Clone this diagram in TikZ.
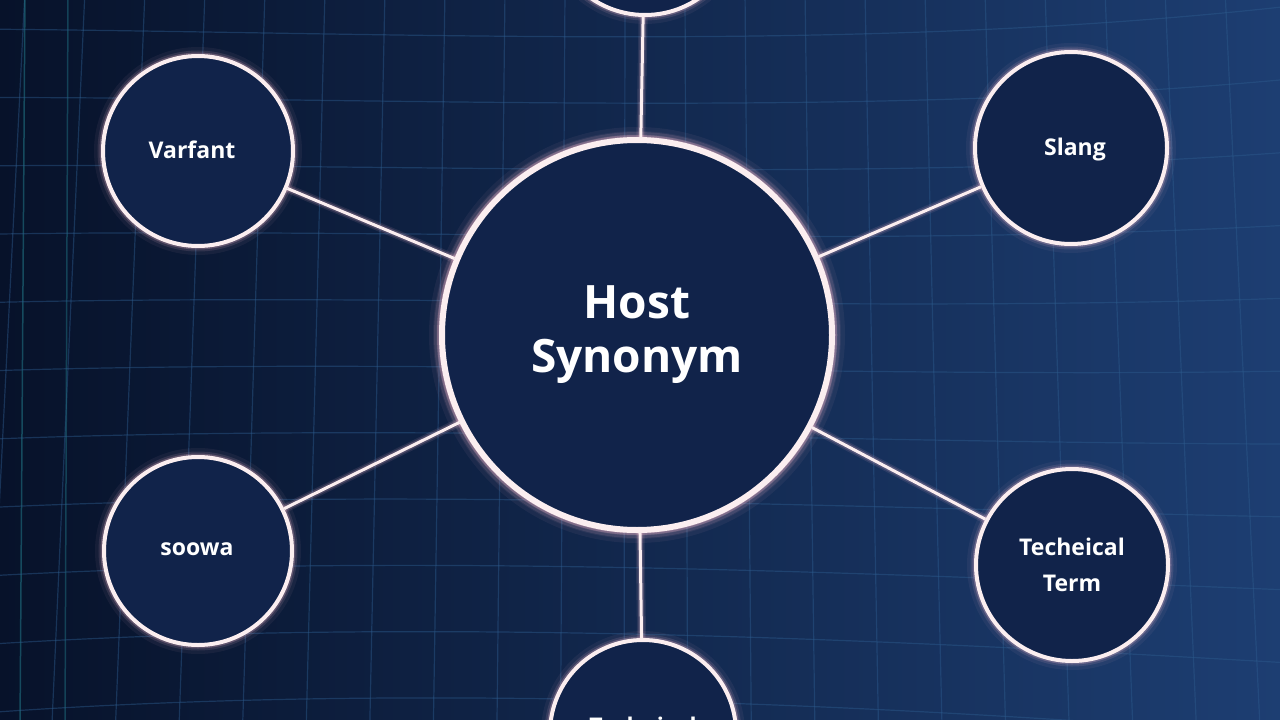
\documentclass[tikz,border=0pt]{standalone}
\usepackage{fontspec}
\setmainfont{Open Sans}
\definecolor{bgL}{HTML}{07122A}
\definecolor{bgM}{HTML}{0F2346}
\definecolor{bgR}{HTML}{1D3E72}
\definecolor{gridc}{HTML}{2D5C8E}
\definecolor{gridt}{HTML}{1F7080}
\definecolor{nodefill}{HTML}{11234A}
\definecolor{ringc}{HTML}{FBEEF0}
\definecolor{glowc}{HTML}{F2B8CC}
\tikzset{
  glowline/.style={draw=ringc, line width=3pt,
    preaction={draw=glowc, line width=9pt, opacity=0.10},
    preaction={draw=glowc, line width=6pt, opacity=0.20}},
  bubble/.style={circle, inner sep=0pt, fill=nodefill, draw=ringc, line width=4pt,
    text=white, align=center, font=\fontsize{23}{36}\selectfont\bfseries,
    preaction={draw=glowc, line width=18pt, opacity=0.06},
    preaction={draw=glowc, line width=11pt, opacity=0.12},
    preaction={draw=glowc, line width=7pt, opacity=0.25}},
  hub/.style={bubble, line width=6pt, font=\fontsize{46}{54}\selectfont\bfseries,
    preaction={draw=glowc, line width=26pt, opacity=0.06},
    preaction={draw=glowc, line width=16pt, opacity=0.12},
    preaction={draw=glowc, line width=10pt, opacity=0.25}},
  gridline/.style={draw=gridc, line width=1.2pt, opacity=0.45},
  labeltext/.style={text=white, font=\fontsize{23}{28}\selectfont\bfseries, inner sep=0pt}
}
\begin{document}
\begin{tikzpicture}[x=1pt,y=-1pt]
\useasboundingbox (0,0) rectangle (1280,720);
\clip (0,0) rectangle (1280,720);
\shade[left color=bgL, middle color=bgM, right color=bgR] (0,0) rectangle (1280,720);
% grid
\foreach \x in {25,85,...,1285} {
  \draw[gridline] (\x,-10) -- ({\x+(\x-640)*0.06},730);
}
\draw[draw=gridt, line width=1.5pt, opacity=0.6] (25,-10) -- (20,730);
\draw[draw=gridt, line width=1.5pt, opacity=0.5] (68,-10) -- (65,730);
\foreach \y in {-20,45,...,780} {
  \draw[gridline] (0,{\y+(\y-360)*0.05}) .. controls (420,{\y-12}) and (860,{\y+8}) .. (1280,{\y+(\y-360)*0.12});
}
% nodes
\node[hub, minimum size=390pt] (host) at (637,335) {Host\\Synonym};
\node[bubble, minimum size=190pt] (top) at (645,-80) {};
\node[bubble, minimum size=190pt] (variant) at (198,151) {};
\node[labeltext] (variantT) at (192,150) {Varfant};
\node[bubble, minimum size=192pt] (slang) at (1071,148) {};
\node[labeltext] (slangT) at (1075,150) {Slang};
\node[bubble, minimum size=188pt] (soowa) at (198,551) {};
\node[labeltext] (soowaT) at (197,549) {soowa};
\node[bubble, minimum size=192pt] (tech) at (1072,565) {Techeical\\Term};
\node[bubble, minimum size=186pt] (bottom) at (643,733) {};
\node[labeltext, anchor=base] (bottomT) at (643,734) {Technical};
% connectors
\draw[glowline] (host) -- (top);
\draw[glowline] (host) -- (variant);
\draw[glowline] (host) -- (slang);
\draw[glowline] (host) -- (soowa);
\draw[glowline] (host) -- (tech);
\draw[glowline] (host) -- (bottom);
\end{tikzpicture}
\end{document}
